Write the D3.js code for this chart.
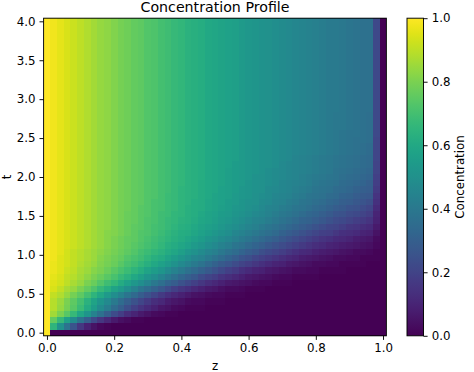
<!DOCTYPE html>
<html lang="en">
<head>
<meta charset="utf-8">
<title>Concentration Profile</title>
<style>
  body { margin: 0; background: #fff; }
  text { font-family: "DejaVu Sans", sans-serif; fill: #000; }
  .tick line { stroke: #000; stroke-width: 0.94px; }
</style>
</head>
<body>
<script src="https://cdn.jsdelivr.net/npm/d3@7"></script>
<script>
// grid the solution was sampled on
var zGrid = [0,0.02,0.04,0.06,0.08,0.1,0.12,0.14,0.16,0.18,0.2,0.22,0.24,0.26,0.28,0.3,0.32,0.34,0.36,0.38,
             0.4,0.42,0.44,0.46,0.48,0.5,0.52,0.54,0.56,0.58,0.6,0.62,0.64,0.66,0.68,0.7,0.72,0.74,0.76,0.78,
             0.8,0.82,0.84,0.86,0.88,0.9,0.92,0.94,0.96,0.98,1];
var tGrid = [0,0.08,0.16,0.24,0.32,0.4,0.48,0.56,0.64,0.72,0.8,0.88,0.96,1.04,1.12,1.2,1.28,1.36,1.44,1.52,
             1.6,1.68,1.76,1.84,1.92,2,2.08,2.16,2.24,2.32,2.4,2.48,2.56,2.64,2.72,2.8,2.88,2.96,3.04,3.12,
             3.2,3.28,3.36,3.44,3.52,3.6,3.68,3.76,3.84,3.92,4];

var xTicks = [0, 0.2, 0.4, 0.6, 0.8, 1.0];
var yTicks = [0, 0.5, 1, 1.5, 2, 2.5, 3, 3.5, 4];
var cTicks = [0, 0.2, 0.4, 0.6, 0.8, 1.0];

// concentration in percent, one row per t (bottom row = t 0), one column per z
var concPct = [
[100,0,0,0,0,0,0,0,0,0, 0,0,0,0,0,0,0,0,0,0, 0,0,0,0,0,0,0,0,0,0, 0,0,0,0,0,0,0,0,0,0, 0,0,0,0,0,0,0,0,0,0, 0],
[100,65,51,38,26,16,9,5,2,1, 0,0,0,0,0,0,0,0,0,0, 0,0,0,0,0,0,0,0,0,0, 0,0,0,0,0,0,0,0,0,0, 0,0,0,0,0,0,0,0,0,0, 0],
[100,76,67,57,48,38,30,22,16,11, 7,4,3,1,1,0,0,0,0,0, 0,0,0,0,0,0,0,0,0,0, 0,0,0,0,0,0,0,0,0,0, 0,0,0,0,0,0,0,0,0,0, 0],
[100,86,80,74,67,59,52,44,37,30, 23,18,13,10,7,5,3,2,1,1, 0,0,0,0,0,0,0,0,0,0, 0,0,0,0,0,0,0,0,0,0, 0,0,0,0,0,0,0,0,0,0, 0],
[100,89,84,79,74,68,61,55,48,42, 35,30,24,19,15,12,9,6,5,3, 2,1,1,1,0,0,0,0,0,0, 0,0,0,0,0,0,0,0,0,0, 0,0,0,0,0,0,0,0,0,0, 0],
[100,89,85,80,75,70,64,58,52,47, 41,35,30,25,21,17,13,11,8,6, 5,3,2,2,1,1,1,0,0,0, 0,0,0,0,0,0,0,0,0,0, 0,0,0,0,0,0,0,0,0,0, 0],
[100,91,88,84,79,75,70,65,60,54, 49,44,39,34,29,25,21,17,14,11, 9,7,5,4,3,2,2,1,1,1, 0,0,0,0,0,0,0,0,0,0, 0,0,0,0,0,0,0,0,0,0, 0],
[100,94,91,87,84,80,76,72,67,63, 58,54,49,44,39,35,31,27,23,19, 16,14,11,9,7,6,4,3,3,2, 1,1,1,0,0,0,0,0,0,0, 0,0,0,0,0,0,0,0,0,0, 0],
[100,95,93,90,87,84,80,77,73,69, 66,61,57,53,49,45,40,36,32,29, 25,22,19,16,13,11,9,7,6,5, 4,3,2,2,1,1,1,0,0,0, 0,0,0,0,0,0,0,0,0,0, 0],
[100,96,94,91,89,86,83,80,77,74, 71,67,64,60,56,52,49,45,41,37, 33,30,27,23,20,18,15,13,11,9, 7,6,5,4,3,2,2,1,1,1, 1,0,0,0,0,0,0,0,0,0, 0],
[100,97,95,92,90,87,85,82,80,77, 74,71,68,65,62,58,55,52,48,44, 41,37,34,31,28,25,22,19,17,14, 12,10,9,7,6,5,4,3,3,2, 2,1,1,1,1,0,0,0,0,0, 0],
[100,97,95,93,91,88,86,84,81,79, 77,74,71,69,66,63,60,57,54,51, 47,44,41,38,34,31,28,26,23,20, 18,16,14,12,10,9,7,6,5,4, 3,3,2,2,1,1,1,1,0,0, 0],
[100,98,95,93,91,89,87,85,82,80, 78,76,73,71,69,66,63,61,58,55, 52,49,46,44,41,38,35,32,29,26, 24,21,19,17,15,13,11,10,8,7, 6,5,4,3,3,2,2,1,1,1, 0],
[100,98,96,93,91,89,87,85,83,81, 79,77,75,73,70,68,66,64,61,59, 56,53,51,48,45,43,40,37,35,32, 29,27,24,22,20,18,16,14,12,11, 9,8,7,6,5,4,3,3,2,1, 0],
[100,98,96,94,92,90,88,86,84,82, 80,78,76,74,72,70,68,66,63,61, 59,57,54,52,49,47,44,42,39,37, 34,32,30,27,25,23,21,19,17,15, 13,12,10,9,8,7,6,5,4,2, 0],
[100,98,96,94,92,90,88,86,84,82, 80,78,76,75,73,71,69,67,65,63, 61,59,57,55,52,50,48,46,43,41, 39,36,34,32,30,27,25,23,21,19, 17,15,14,12,11,10,8,7,6,3, 0],
[100,98,96,94,92,90,88,86,84,82, 81,79,77,75,73,72,70,68,66,64, 62,61,59,57,55,53,51,49,46,44, 42,40,38,36,34,31,29,27,25,23, 21,19,18,16,14,13,12,10,9,5, 0],
[100,98,96,94,92,90,88,86,84,83, 81,79,77,75,74,72,70,69,67,65, 63,62,60,58,56,55,53,51,49,47, 45,43,41,39,37,35,33,31,29,27, 25,23,21,20,18,16,15,13,12,7, 0],
[100,98,96,94,92,90,88,86,84,83, 81,79,77,76,74,72,71,69,67,66, 64,63,61,59,58,56,54,53,51,49, 47,45,44,42,40,38,36,34,32,31, 29,27,25,23,22,20,18,17,15,9, 0],
[100,98,96,94,92,90,88,86,84,83, 81,79,77,76,74,73,71,69,68,66, 65,63,62,60,58,57,55,54,52,51, 49,47,46,44,42,40,39,37,35,33, 32,30,28,26,25,23,22,20,18,10, 0],
[100,98,96,94,92,90,88,86,84,83, 81,79,78,76,74,73,71,70,68,67, 65,63,62,61,59,58,56,55,53,52, 50,49,47,45,44,42,41,39,38,36, 34,33,31,29,28,26,25,23,21,12, 0],
[100,98,96,94,92,90,88,86,84,83, 81,79,78,76,75,73,71,70,68,67, 65,64,62,61,59,58,57,55,54,52, 51,50,48,47,45,44,42,41,39,38, 36,35,33,32,30,29,27,26,24,14, 0],
[100,98,96,94,92,90,88,86,84,83, 81,79,78,76,75,73,72,70,68,67, 65,64,63,61,60,58,57,56,54,53, 52,50,49,48,46,45,44,42,41,39, 38,37,35,34,32,31,29,28,27,15, 0],
[100,98,96,94,92,90,88,86,84,83, 81,79,78,76,75,73,72,70,69,67, 65,64,63,61,60,59,57,56,55,53, 52,51,50,48,47,46,45,43,42,41, 39,38,37,35,34,33,31,30,29,17, 0],
[100,98,96,94,92,90,88,86,84,83, 81,79,78,76,75,73,72,70,69,67, 66,64,63,61,60,59,58,56,55,54, 52,51,50,49,48,46,45,44,43,42, 40,39,38,37,35,34,33,32,30,18, 0],
[100,98,96,94,92,90,88,86,84,83, 81,79,78,76,75,73,72,70,69,67, 66,64,63,62,60,59,58,56,55,54, 53,51,50,49,48,47,46,45,43,42, 41,40,39,38,36,35,34,33,32,19, 0],
[100,98,96,94,92,90,88,86,84,83, 81,79,78,76,75,73,72,70,69,67, 66,64,63,62,60,59,58,56,55,54, 53,52,51,49,48,47,46,45,44,43, 42,41,40,38,37,36,35,34,33,20, 0],
[100,98,96,94,92,90,88,86,84,83, 81,79,78,76,75,73,72,70,69,67, 66,64,63,62,60,59,58,57,55,54, 53,52,51,50,49,47,46,45,44,43, 42,41,40,39,38,37,36,35,34,20, 0],
[100,98,96,94,92,90,88,86,84,83, 81,79,78,76,75,73,72,70,69,67, 66,64,63,62,60,59,58,57,56,54, 53,52,51,50,49,48,47,45,44,43, 42,41,40,39,38,37,36,35,34,21, 0],
[100,98,96,94,92,90,88,86,84,83, 81,79,78,76,75,73,72,70,69,67, 66,64,63,62,60,59,58,57,56,54, 53,52,51,50,49,48,47,46,45,44, 43,42,41,40,39,38,37,36,35,21, 0],
[100,98,96,94,92,90,88,86,84,83, 81,79,78,76,75,73,72,70,69,67, 66,64,63,62,60,59,58,57,56,54, 53,52,51,50,49,48,47,46,45,44, 43,42,41,40,39,38,37,36,35,21, 0],
[100,98,96,94,92,90,88,86,84,83, 81,79,78,76,75,73,72,70,69,67, 66,64,63,62,60,59,58,57,56,54, 53,52,51,50,49,48,47,46,45,44, 43,42,41,40,39,38,37,37,36,21, 0],
[100,98,96,94,92,90,88,86,84,83, 81,79,78,76,75,73,72,70,69,67, 66,64,63,62,60,59,58,57,56,54, 53,52,51,50,49,48,47,46,45,44, 43,42,41,40,39,38,38,37,36,22, 0],
[100,98,96,94,92,90,88,86,84,83, 81,79,78,76,75,73,72,70,69,67, 66,64,63,62,60,59,58,57,56,54, 53,52,51,50,49,48,47,46,45,44, 43,42,41,40,40,39,38,37,36,22, 0],
[100,98,96,94,92,90,88,86,84,83, 81,79,78,76,75,73,72,70,69,67, 66,64,63,62,60,59,58,57,56,54, 53,52,51,50,49,48,47,46,45,44, 43,42,41,40,40,39,38,37,36,22, 0],
[100,98,96,94,92,90,88,86,84,83, 81,79,78,76,75,73,72,70,69,67, 66,64,63,62,60,59,58,57,56,54, 53,52,51,50,49,48,47,46,45,44, 43,42,41,40,40,39,38,37,36,22, 0],
[100,98,96,94,92,90,88,86,84,83, 81,79,78,76,75,73,72,70,69,67, 66,64,63,62,60,59,58,57,56,54, 53,52,51,50,49,48,47,46,45,44, 43,42,41,41,40,39,38,37,37,22, 0],
[100,98,96,94,92,90,88,86,84,83, 81,79,78,76,75,73,72,70,69,67, 66,64,63,62,60,59,58,57,56,54, 53,52,51,50,49,48,47,46,45,44, 43,42,41,41,40,39,38,37,37,22, 0],
[100,98,96,94,92,90,88,86,84,83, 81,79,78,76,75,73,72,70,69,67, 66,64,63,62,60,59,58,57,56,54, 53,52,51,50,49,48,47,46,45,44, 43,42,41,41,40,39,38,37,37,22, 0],
[100,98,96,94,92,90,88,86,84,83, 81,79,78,76,75,73,72,70,69,67, 66,64,63,62,60,59,58,57,56,54, 53,52,51,50,49,48,47,46,45,44, 43,42,41,41,40,39,38,37,37,22, 0],
[100,98,96,94,92,90,88,86,84,83, 81,79,78,76,75,73,72,70,69,67, 66,64,63,62,60,59,58,57,56,54, 53,52,51,50,49,48,47,46,45,44, 43,42,41,41,40,39,38,37,37,22, 0],
[100,98,96,94,92,90,88,86,84,83, 81,79,78,76,75,73,72,70,69,67, 66,64,63,62,60,59,58,57,56,54, 53,52,51,50,49,48,47,46,45,44, 43,42,41,41,40,39,38,37,37,22, 0],
[100,98,96,94,92,90,88,86,84,83, 81,79,78,76,75,73,72,70,69,67, 66,64,63,62,60,59,58,57,56,54, 53,52,51,50,49,48,47,46,45,44, 43,42,41,41,40,39,38,37,37,22, 0],
[100,98,96,94,92,90,88,86,84,83, 81,79,78,76,75,73,72,70,69,67, 66,64,63,62,60,59,58,57,56,54, 53,52,51,50,49,48,47,46,45,44, 43,42,41,41,40,39,38,37,37,22, 0],
[100,98,96,94,92,90,88,86,84,83, 81,79,78,76,75,73,72,70,69,67, 66,64,63,62,60,59,58,57,56,54, 53,52,51,50,49,48,47,46,45,44, 43,42,41,41,40,39,38,37,37,22, 0],
[100,98,96,94,92,90,88,86,84,83, 81,79,78,76,75,73,72,70,69,67, 66,64,63,62,60,59,58,57,56,54, 53,52,51,50,49,48,47,46,45,44, 43,42,41,41,40,39,38,37,37,22, 0],
[100,98,96,94,92,90,88,86,84,83, 81,79,78,76,75,73,72,70,69,67, 66,64,63,62,60,59,58,57,56,54, 53,52,51,50,49,48,47,46,45,44, 43,42,41,41,40,39,38,37,37,22, 0],
[100,98,96,94,92,90,88,86,84,83, 81,79,78,76,75,73,72,70,69,67, 66,64,63,62,60,59,58,57,56,54, 53,52,51,50,49,48,47,46,45,44, 43,42,41,41,40,39,38,37,37,22, 0],
[100,98,96,94,92,90,88,86,84,83, 81,79,78,76,75,73,72,70,69,67, 66,64,63,62,60,59,58,57,56,54, 53,52,51,50,49,48,47,46,45,44, 43,42,41,41,40,39,38,37,37,22, 0],
[100,98,96,94,92,90,88,86,84,83, 81,79,78,76,75,73,72,70,69,67, 66,64,63,62,60,59,58,57,56,54, 53,52,51,50,49,48,47,46,45,44, 43,42,41,41,40,39,38,37,37,22, 0],
[100,98,96,94,92,90,88,86,84,83, 81,79,78,76,75,73,72,70,69,67, 66,64,63,62,60,59,58,57,56,54, 53,52,51,50,49,48,47,46,45,44, 43,42,41,41,40,39,38,37,37,22, 0]
];

var width = 474, height = 372;
var plot = {left: 43.6, right: 386.4, top: 18.2, bottom: 335.8};
var cbar = {left: 407, right: 423.5};

// cell edges: midpoints between samples, half a step past each end
function edges(g) {
    var e = [g[0] - (g[1] - g[0]) / 2];
    for (var i = 1; i < g.length; i++) e.push((g[i - 1] + g[i]) / 2);
    e.push(g[g.length - 1] + (g[g.length - 1] - g[g.length - 2]) / 2);
    return e;
}
var zEdges = edges(zGrid), tEdges = edges(tGrid);

var xScale = d3.scaleLinear()
    .domain([zEdges[0], zEdges[zEdges.length - 1]])
    .range([plot.left, plot.right]);
var yScale = d3.scaleLinear()
    .domain([tEdges[0], tEdges[tEdges.length - 1]])
    .range([plot.bottom, plot.top]);
var color = d3.scaleSequential(d3.interpolateViridis).domain([0, 1]);
var cScale = d3.scaleLinear().domain([0, 1]).range([plot.bottom, plot.top]);

var svg = d3.select("body").append("svg")
    .attr("width", width)
    .attr("height", height);

// flatten rows into cells
var cells = [];
concPct.forEach(function(row, k) {
    row.forEach(function(v, j) {
        cells.push({k: k, j: j, value: v / 100});
    });
});

svg.append("g")
    .attr("shape-rendering", "crispEdges")
  .selectAll("rect")
  .data(cells)
  .enter().append("rect")
    .attr("x", d => xScale(zEdges[d.j]))
    .attr("y", d => yScale(tEdges[d.k + 1]))
    .attr("width", d => xScale(zEdges[d.j + 1]) - xScale(zEdges[d.j]))
    .attr("height", d => yScale(tEdges[d.k]) - yScale(tEdges[d.k + 1]))
    .attr("fill", d => color(d.value));

// frame
svg.append("rect")
    .attr("x", plot.left).attr("y", plot.top)
    .attr("width", plot.right - plot.left)
    .attr("height", plot.bottom - plot.top)
    .attr("fill", "none")
    .attr("stroke", "#000")
    .attr("stroke-width", 0.94);

// x axis
var gx = svg.append("g")
    .attr("transform", "translate(0," + plot.bottom + ")")
    .call(d3.axisBottom(xScale).tickValues(xTicks).tickFormat(d3.format(".1f"))
        .tickSize(4.1).tickPadding(4.1));
gx.select(".domain").remove();
gx.selectAll("text").style("font-size", "11.8px");

// y axis
var gy = svg.append("g")
    .attr("transform", "translate(" + plot.left + ",0)")
    .call(d3.axisLeft(yScale).tickValues(yTicks).tickFormat(d3.format(".1f"))
        .tickSize(4.1).tickPadding(4.1));
gy.select(".domain").remove();
gy.selectAll("text").style("font-size", "11.8px");

// title and axis labels
svg.append("text")
    .attr("x", (plot.left + plot.right) / 2)
    .attr("y", 11.5)
    .style("text-anchor", "middle")
    .style("font-size", "14.2px")
    .text("Concentration Profile");

svg.append("text")
    .attr("x", (plot.left + plot.right) / 2)
    .attr("y", 369.5)
    .style("text-anchor", "middle")
    .style("font-size", "11.8px")
    .text("z");

svg.append("text")
    .attr("transform", "translate(11," + ((plot.top + plot.bottom) / 2) + ") rotate(-90)")
    .style("text-anchor", "middle")
    .style("font-size", "11.8px")
    .text("t");

// colorbar
var grad = svg.append("defs").append("linearGradient")
    .attr("id", "viridis")
    .attr("x1", 0).attr("y1", 1).attr("x2", 0).attr("y2", 0);
grad.selectAll("stop")
    .data(d3.range(0, 1.0001, 0.025))
    .enter().append("stop")
    .attr("offset", d => d)
    .attr("stop-color", d => color(d));

svg.append("rect")
    .attr("x", cbar.left).attr("y", plot.top)
    .attr("width", cbar.right - cbar.left)
    .attr("height", plot.bottom - plot.top)
    .attr("fill", "url(#viridis)")
    .attr("stroke", "#000")
    .attr("stroke-width", 0.94);

var gc = svg.append("g")
    .attr("transform", "translate(" + cbar.right + ",0)")
    .call(d3.axisRight(cScale).tickValues(cTicks).tickFormat(d3.format(".1f"))
        .tickSize(4.1).tickPadding(4.1));
gc.select(".domain").remove();
gc.selectAll("text").style("font-size", "11.8px");

svg.append("text")
    .attr("transform", "translate(464," + ((plot.top + plot.bottom) / 2) + ") rotate(-90)")
    .style("text-anchor", "middle")
    .style("font-size", "11.8px")
    .text("Concentration");
</script>
</body>
</html>
